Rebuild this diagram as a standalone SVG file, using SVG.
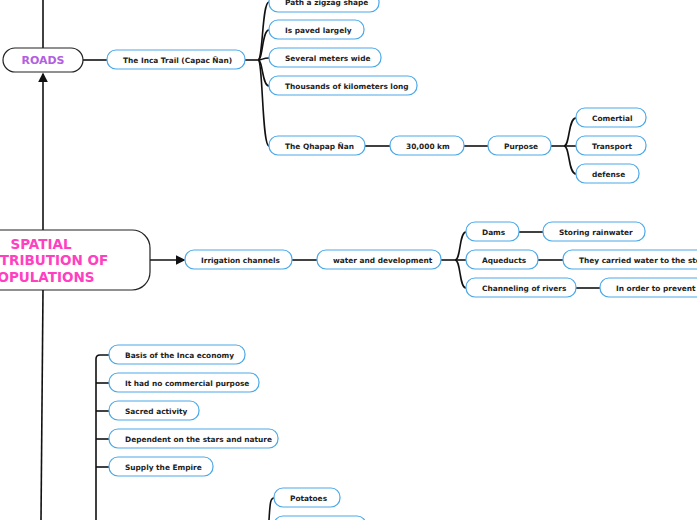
<svg xmlns="http://www.w3.org/2000/svg" width="697" height="520" viewBox="0 0 697 520">
<style>
.n rect{fill:#fff;stroke:#4aa8e8;stroke-width:1.2}
.n text{font-family:"DejaVu Sans",sans-serif;font-weight:bold;font-size:7.4px;fill:#222;dominant-baseline:central}
.c path{fill:none;stroke:#111;stroke-width:1.6}
</style>
<defs><marker id="a" markerWidth="6" markerHeight="6" refX="5" refY="3" orient="auto"><path d="M0,0L6,3L0,6z" fill="#111"/></marker></defs>
<g class="c">
<path d="M43,0V48"/><path d="M43,230V74" marker-end="url(#a)"/><path d="M43,290L41,520"/>
<path d="M83,60H107"/>
<path d="M245,60H258"/>
<path d="M258,60C263,60 262,2 269,2"/><path d="M258,60C263,60 262,30 269,30"/><path d="M258,60C263,60 262,58 269,58"/><path d="M258,60C263,60 262,86 269,86"/><path d="M258,60C263,60 262,146 269,146"/>
<path d="M365,146H390"/><path d="M464,146H488"/><path d="M551,146H564"/>
<path d="M564,146C570,146 568,118 576,118"/><path d="M564,146H576"/><path d="M564,146C570,146 568,174 576,174"/>
<path d="M150,260H184" marker-end="url(#a)"/><path d="M292,260H317"/><path d="M441,260H455"/>
<path d="M455,260C461,260 459,232 466,232"/><path d="M455,260H466"/><path d="M455,260C461,260 459,288 466,288"/>
<path d="M519,232H543"/><path d="M538,260H563"/><path d="M576,288H600"/>
<path d="M109,355H100Q96,355 96,359V520"/><path d="M96,383H109"/><path d="M96,411H109"/><path d="M96,439H109"/><path d="M96,467H109"/>
<path d="M269,520C270,505 270,498 274,498"/>
</g>
<g id="roads"><rect x="3" y="48" width="80" height="24" rx="12" fill="#fff" stroke="#222" stroke-width="1.2"/><text x="43" y="60" font-family="DejaVu Sans,sans-serif" font-weight="bold" font-size="11" fill="#b060e0" text-anchor="middle" dominant-baseline="central">ROADS</text></g>
<g id="center"><rect x="-40" y="230" width="190" height="60" rx="18" fill="#fff" stroke="#222" stroke-width="1.2"/><text font-family="DejaVu Sans,sans-serif" font-weight="bold" font-size="13.5" fill="#ff40c0" text-anchor="middle"><tspan x="41" y="249">SPATIAL</tspan><tspan x="41" y="265">DISTRIBUTION OF</tspan><tspan x="41" y="282">POPULATIONS</tspan></text></g>
<g class="n" id="inca"><rect x="107" y="50" width="138" height="19" rx="9"/><text x="123" y="60">The Inca Trail (Capac Ñan)</text></g>
<g class="n" id="zig"><rect x="269" y="-7" width="110" height="19" rx="9"/><text x="285" y="2">Path a zigzag shape</text></g>
<g class="n" id="paved"><rect x="269" y="20" width="95" height="19" rx="9"/><text x="285" y="30">Is paved largely</text></g>
<g class="n" id="wide"><rect x="269" y="48" width="112" height="19" rx="9"/><text x="285" y="58">Several meters wide</text></g>
<g class="n" id="long"><rect x="269" y="76" width="148" height="19" rx="9"/><text x="285" y="86">Thousands of kilometers long</text></g>
<g class="n" id="qhapap"><rect x="269" y="136" width="96" height="19" rx="9"/><text x="285" y="146">The Qhapap Ñan</text></g>
<g class="n" id="km"><rect x="390" y="136" width="74" height="19" rx="9"/><text x="406" y="146">30,000 km</text></g>
<g class="n" id="purpose"><rect x="488" y="136" width="63" height="19" rx="9"/><text x="504" y="146">Purpose</text></g>
<g class="n" id="com"><rect x="576" y="108" width="70" height="19" rx="9"/><text x="592" y="118">Comertial</text></g>
<g class="n" id="tr"><rect x="576" y="136" width="70" height="19" rx="9"/><text x="592" y="146">Transport</text></g>
<g class="n" id="def"><rect x="576" y="164" width="63" height="19" rx="9"/><text x="592" y="174">defense</text></g>
<g class="n" id="irr"><rect x="185" y="250" width="107" height="19" rx="9"/><text x="201" y="260">Irrigation channels</text></g>
<g class="n" id="wd"><rect x="317" y="250" width="124" height="19" rx="9"/><text x="333" y="260">water and development</text></g>
<g class="n" id="dams"><rect x="466" y="222" width="53" height="19" rx="9"/><text x="482" y="232">Dams</text></g>
<g class="n" id="storing"><rect x="543" y="222" width="102" height="19" rx="9"/><text x="559" y="232">Storing rainwater</text></g>
<g class="n" id="aq"><rect x="466" y="250" width="72" height="19" rx="9"/><text x="482" y="260">Aqueducts</text></g>
<g class="n" id="carried"><rect x="563" y="250" width="160" height="19" rx="9"/><text x="579" y="260">They carried water to the stone</text></g>
<g class="n" id="chan"><rect x="466" y="278" width="110" height="19" rx="9"/><text x="482" y="288">Channeling of rivers</text></g>
<g class="n" id="prevent"><rect x="600" y="278" width="130" height="19" rx="9"/><text x="616" y="288">In order to prevent floods</text></g>
<g class="n" id="basis"><rect x="109" y="345" width="136" height="19" rx="9"/><text x="125" y="355">Basis of the Inca economy</text></g>
<g class="n" id="comm"><rect x="109" y="373" width="150" height="19" rx="9"/><text x="125" y="383">It had no commercial purpose</text></g>
<g class="n" id="sacred"><rect x="109" y="401" width="90" height="19" rx="9"/><text x="125" y="411">Sacred activity</text></g>
<g class="n" id="dep"><rect x="109" y="429" width="169" height="19" rx="9"/><text x="125" y="439">Dependent on the stars and nature</text></g>
<g class="n" id="supply"><rect x="109" y="457" width="104" height="19" rx="9"/><text x="125" y="467">Supply the Empire</text></g>
<g class="n" id="pot"><rect x="274" y="488" width="66" height="19" rx="9"/><text x="290" y="498">Potatoes</text></g>
<g class="n" id="next"><rect x="274" y="516" width="92" height="19" rx="9"/></g>
</svg>
